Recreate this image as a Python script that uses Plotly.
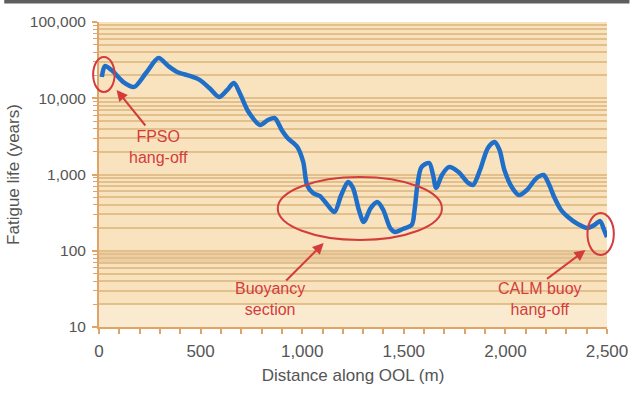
import plotly.graph_objects as go

# ---- data ----
distance_m = [14, 29, 62, 120, 173, 231, 293, 341, 385, 447, 495, 543, 591, 630, 664, 697,
              736, 793, 832, 865, 899, 928, 976, 1005, 1024, 1053, 1087, 1125, 1159, 1192,
              1226, 1250, 1279, 1303, 1337, 1370, 1399, 1433, 1457, 1495, 1539, 1553, 1567,
              1587, 1625, 1644, 1659, 1688, 1721, 1769, 1817, 1841, 1875, 1914, 1947, 1971,
              1995, 2034, 2067, 2106, 2154, 2188, 2216, 2240, 2274, 2308, 2356, 2404, 2438,
              2466, 2486, 2500]
fatigue_life_years = [19000, 26500, 23400, 16300, 14100, 21400, 33700, 26500, 22100, 19600,
                      17400, 13600, 10400, 12800, 15800, 11000, 6600, 4470, 5190, 5500, 3840,
                      3010, 2300, 1460, 728, 571, 522, 398, 322, 538, 798, 666, 342, 238, 363,
                      435, 342, 199, 176, 193, 218, 342, 728, 1250, 1415, 985, 666, 985, 1250,
                      1080, 775, 728, 1145, 2230, 2670, 2100, 1145, 666, 538, 627, 900, 985,
                      728, 507, 342, 277, 224, 199, 218, 245, 187, 151]

x_tickvals = [0, 500, 1000, 1500, 2000, 2500]
x_ticktext = ["0", "500", "1,000", "1,500", "2,000", "2,500"]
y_tickvals = [10, 100, 1000, 10000, 100000]
y_ticktext = ["10", "100", "1,000", "10,000", "100,000"]
y_minor_vals = [k * 10 ** n for n in range(1, 5) for k in range(2, 10)]

callout_labels = ["FPSO<br>hang-off", "Buoyancy<br>section", "CALM buoy<br>hang-off"]

# ---- layout geometry (pixels) ----
W, H = 640, 396
L, R, T, B = 97, 23, 22, 69
PW, PH = W - L - R, H - T - B


def px(x):
    return (x - L) / PW


def py(y):
    return (H - B - y) / PH


RED = "#d43c3c"
FONT = "Liberation Sans, Arial, sans-serif"
GRID = "#e3bf8c"
AXIS = "#e0a466"

fig = go.Figure()
fig.add_trace(go.Scatter(
    x=distance_m, y=fatigue_life_years, mode="lines",
    line=dict(color="#1f6fc8", width=4.5, shape="spline", smoothing=0.8),
    hoverinfo="skip", showlegend=False,
))

shapes = [
    # top dark bar
    dict(type="rect", xref="paper", yref="paper", x0=px(0), x1=px(W), y0=py(3.5), y1=py(0),
         fillcolor="#5e5e5e", line=dict(width=0), layer="above"),
    # lighter strip at the bottom decade
    dict(type="rect", xref="paper", yref="paper", x0=0, x1=1, y0=0, y1=py(305),
         fillcolor="rgba(255,255,255,0.25)", line=dict(width=0), layer="below"),
    # darker band near 70-100
    dict(type="rect", xref="paper", yref="paper", x0=0, x1=1, y0=py(263), y1=py(250),
         fillcolor="rgba(205,160,105,0.30)", line=dict(width=0), layer="below"),
    # ellipses
    dict(type="circle", xref="paper", yref="paper", x0=px(91), x1=px(113), y0=py(92), y1=py(57),
         line=dict(color=RED, width=2)),
    dict(type="circle", xref="paper", yref="paper", x0=px(280), x1=px(448), y0=py(240), y1=py(177),
         line=dict(color=RED, width=2)),
    dict(type="circle", xref="paper", yref="paper", x0=px(597), x1=px(624), y0=py(255), y1=py(213),
         line=dict(color=RED, width=2)),
]

annotations = []
# arrows: (head_x, head_y, tail_x, tail_y)
for hx, hy, tx, ty in [(115, 90, 145, 127), (327, 243, 288, 282), (595, 250, 555, 280)]:
    annotations.append(dict(
        xref="paper", yref="paper", x=px(hx), y=py(hy), text="", showarrow=True,
        axref="pixel", ayref="pixel", ax=tx - hx, ay=ty - hy,
        arrowhead=2, arrowsize=1.1, arrowwidth=2, arrowcolor=RED,
    ))
# labels
for txt, (cx, cy) in zip(callout_labels, [(158, 147), (272, 299), (548, 299)]):
    annotations.append(dict(
        xref="paper", yref="paper", x=px(cx), y=py(cy), text=txt, showarrow=False,
        xanchor="center", yanchor="middle", align="center",
        font=dict(family=FONT, size=16, color=RED),
    ))

fig.update_layout(
    width=W, height=H,
    margin=dict(l=L, r=R, t=T, b=B, pad=0),
    paper_bgcolor="white",
    plot_bgcolor="#f9e3bf",
    font=dict(family=FONT, color="#555555"),
    shapes=shapes,
    annotations=annotations,
    xaxis=dict(
        range=[0, 2500], tickmode="array", tickvals=x_tickvals, ticktext=x_ticktext,
        tickfont=dict(size=17, color="#555555"),
        ticks="outside", ticklen=5, tickwidth=1.5, tickcolor=AXIS, ticklabelstandoff=3,
        showline=True, linecolor=AXIS, linewidth=2, showgrid=False, zeroline=False,
        minor=dict(dtick=100, tick0=0, ticks="outside", ticklen=5, tickwidth=1.5,
                   tickcolor=AXIS, showgrid=False),
        title=dict(text="Distance along OOL (m)", font=dict(size=17, color="#555555"), standoff=9),
    ),
    yaxis=dict(
        type="log", range=[1, 5], tickmode="array", tickvals=y_tickvals, ticktext=y_ticktext,
        tickfont=dict(size=15.5, color="#555555"),
        ticks="outside", ticklen=5, tickwidth=1.5, tickcolor=AXIS, ticklabelstandoff=3,
        showline=True, linecolor=AXIS, linewidth=2,
        showgrid=True, gridcolor=GRID, gridwidth=1.5, zeroline=False,
        minor=dict(tickmode="array", tickvals=y_minor_vals, ticks="outside", ticklen=4,
                   tickwidth=1.2, tickcolor=AXIS, showgrid=True, gridcolor=GRID, gridwidth=1.5),
        title=dict(text="Fatigue life (years)", font=dict(size=17, color="#555555"), standoff=6),
    ),
)

fig.write_html("out.html")
